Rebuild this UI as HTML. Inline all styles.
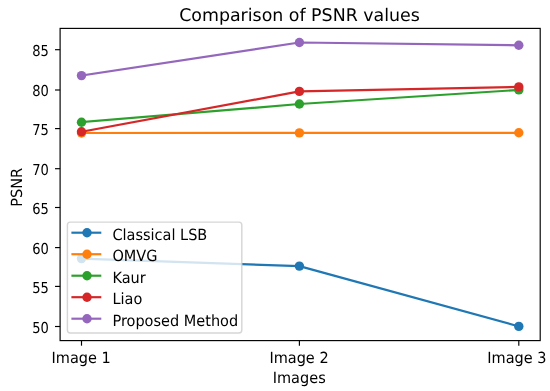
<!DOCTYPE html><html><head><meta charset="utf-8"><style>html,body{margin:0;padding:0;background:#fff;}svg{display:block;}text{font-family:"DejaVu Sans","Liberation Sans",sans-serif;fill:#000;text-rendering:geometricPrecision;}</style></head><body>
<svg width="550" height="391" viewBox="0 0 550 391">
<rect x="0" y="0" width="550" height="391" fill="#fff"/>
<polyline points="81.5,258.6 299.4,266.1 518.8,326.4" fill="none" stroke="#1f77b4" stroke-width="2.175" stroke-linejoin="round" stroke-linecap="square"/>
<circle cx="81.5" cy="258.6" r="4.7" fill="#1f77b4"/>
<circle cx="299.4" cy="266.1" r="4.7" fill="#1f77b4"/>
<circle cx="518.8" cy="326.4" r="4.7" fill="#1f77b4"/>
<polyline points="81.5,133.0 299.4,132.9 518.8,132.8" fill="none" stroke="#ff7f0e" stroke-width="2.175" stroke-linejoin="round" stroke-linecap="square"/>
<circle cx="81.5" cy="133.0" r="4.7" fill="#ff7f0e"/>
<circle cx="299.4" cy="132.9" r="4.7" fill="#ff7f0e"/>
<circle cx="518.8" cy="132.8" r="4.7" fill="#ff7f0e"/>
<polyline points="81.5,122.2 299.4,104.0 518.8,89.9" fill="none" stroke="#2ca02c" stroke-width="2.175" stroke-linejoin="round" stroke-linecap="square"/>
<circle cx="81.5" cy="122.2" r="4.7" fill="#2ca02c"/>
<circle cx="299.4" cy="104.0" r="4.7" fill="#2ca02c"/>
<circle cx="518.8" cy="89.9" r="4.7" fill="#2ca02c"/>
<polyline points="81.5,131.7 299.4,91.4 518.8,86.9" fill="none" stroke="#d62728" stroke-width="2.175" stroke-linejoin="round" stroke-linecap="square"/>
<circle cx="81.5" cy="131.7" r="4.7" fill="#d62728"/>
<circle cx="299.4" cy="91.4" r="4.7" fill="#d62728"/>
<circle cx="518.8" cy="86.9" r="4.7" fill="#d62728"/>
<polyline points="81.5,75.6 299.4,42.5 518.8,45.3" fill="none" stroke="#9467bd" stroke-width="2.175" stroke-linejoin="round" stroke-linecap="square"/>
<circle cx="81.5" cy="75.6" r="4.7" fill="#9467bd"/>
<circle cx="299.4" cy="42.5" r="4.7" fill="#9467bd"/>
<circle cx="518.8" cy="45.3" r="4.7" fill="#9467bd"/>
<rect x="60.1" y="28.4" width="480.10" height="312.20" fill="none" stroke="#000" stroke-width="1.16"/>
<line x1="55.02" y1="49.7" x2="60.1" y2="49.7" stroke="#000" stroke-width="1.16"/>
<text transform="translate(48.9 55.80) scale(0.9 1.04)" font-size="14.5" text-anchor="end">85</text>
<line x1="55.02" y1="90.0" x2="60.1" y2="90.0" stroke="#000" stroke-width="1.16"/>
<text transform="translate(48.9 96.10) scale(0.9 1.04)" font-size="14.5" text-anchor="end">80</text>
<line x1="55.02" y1="128.6" x2="60.1" y2="128.6" stroke="#000" stroke-width="1.16"/>
<text transform="translate(48.9 134.70) scale(0.9 1.04)" font-size="14.5" text-anchor="end">75</text>
<line x1="55.02" y1="168.7" x2="60.1" y2="168.7" stroke="#000" stroke-width="1.16"/>
<text transform="translate(48.9 174.80) scale(0.9 1.04)" font-size="14.5" text-anchor="end">70</text>
<line x1="55.02" y1="207.5" x2="60.1" y2="207.5" stroke="#000" stroke-width="1.16"/>
<text transform="translate(48.9 213.60) scale(0.9 1.04)" font-size="14.5" text-anchor="end">65</text>
<line x1="55.02" y1="247.6" x2="60.1" y2="247.6" stroke="#000" stroke-width="1.16"/>
<text transform="translate(48.9 253.70) scale(0.9 1.04)" font-size="14.5" text-anchor="end">60</text>
<line x1="55.02" y1="286.4" x2="60.1" y2="286.4" stroke="#000" stroke-width="1.16"/>
<text transform="translate(48.9 292.50) scale(0.9 1.04)" font-size="14.5" text-anchor="end">55</text>
<line x1="55.02" y1="326.5" x2="60.1" y2="326.5" stroke="#000" stroke-width="1.16"/>
<text transform="translate(48.9 332.60) scale(0.9 1.04)" font-size="14.5" text-anchor="end">50</text>
<line x1="81.5" y1="340.6" x2="81.5" y2="345.68" stroke="#000" stroke-width="1.16"/>
<text transform="translate(81.2 362.8) scale(1 1.06)" font-size="14.5" text-anchor="middle">Image 1</text>
<line x1="299.4" y1="340.6" x2="299.4" y2="345.68" stroke="#000" stroke-width="1.16"/>
<text transform="translate(299.0 362.8) scale(1 1.06)" font-size="14.5" text-anchor="middle">Image 2</text>
<line x1="518.8" y1="340.6" x2="518.8" y2="345.68" stroke="#000" stroke-width="1.16"/>
<text transform="translate(516.9 362.8) scale(1 1.06)" font-size="14.5" text-anchor="middle">Image 3</text>
<text transform="translate(299.2 382.5) scale(1 1.06)" font-size="14.5" text-anchor="middle">Images</text>
<text transform="translate(21.6 187.3) rotate(-90) scale(1 1.06)" font-size="14.5" text-anchor="middle">PSNR</text>
<text x="299.5" y="20.6" font-size="17.4" text-anchor="middle">Comparison of PSNR values</text>
<rect x="67.4" y="222.1" width="174.40" height="110.90" rx="2.9" ry="2.9" fill="#fff" fill-opacity="0.8" stroke="#ccc" stroke-opacity="0.8" stroke-width="1.45"/>
<line x1="71.4" y1="232.7" x2="101.3" y2="232.7" stroke="#1f77b4" stroke-width="2.175"/>
<circle cx="87.0" cy="232.7" r="4.7" fill="#1f77b4"/>
<text transform="translate(112.4 239.70) scale(1 1.06)" font-size="14.5">Classical LSB</text>
<line x1="71.4" y1="254.2" x2="101.3" y2="254.2" stroke="#ff7f0e" stroke-width="2.175"/>
<circle cx="87.0" cy="254.2" r="4.7" fill="#ff7f0e"/>
<text transform="translate(112.4 261.20) scale(1 1.06)" font-size="14.5">OMVG</text>
<line x1="71.4" y1="275.7" x2="101.3" y2="275.7" stroke="#2ca02c" stroke-width="2.175"/>
<circle cx="87.0" cy="275.7" r="4.7" fill="#2ca02c"/>
<text transform="translate(112.4 282.70) scale(1 1.06)" font-size="14.5">Kaur</text>
<line x1="71.4" y1="297.2" x2="101.3" y2="297.2" stroke="#d62728" stroke-width="2.175"/>
<circle cx="87.0" cy="297.2" r="4.7" fill="#d62728"/>
<text transform="translate(112.4 304.20) scale(1 1.06)" font-size="14.5">Liao</text>
<line x1="71.4" y1="318.7" x2="101.3" y2="318.7" stroke="#9467bd" stroke-width="2.175"/>
<circle cx="87.0" cy="318.7" r="4.7" fill="#9467bd"/>
<text transform="translate(112.4 325.70) scale(1 1.06)" font-size="14.5">Proposed Method</text>
</svg></body></html>
